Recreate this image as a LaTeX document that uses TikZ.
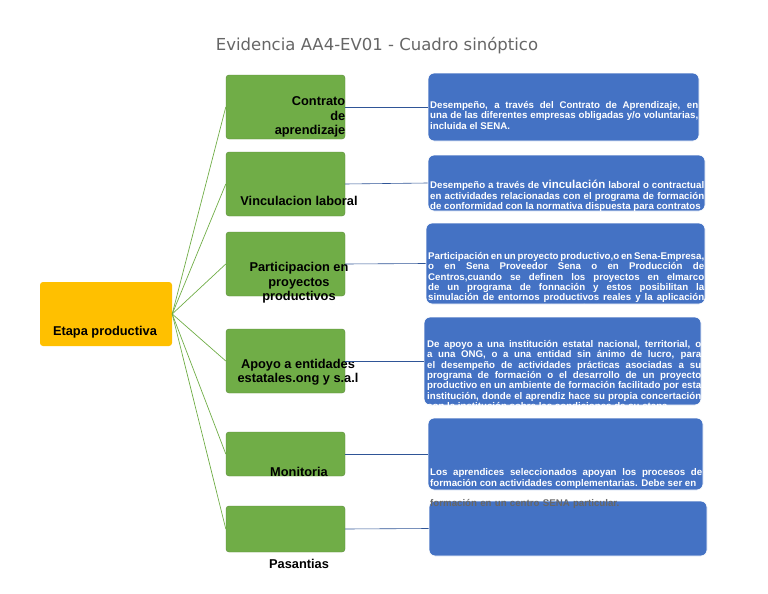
\documentclass[tikz,border=0pt]{standalone}
\usepackage{fontspec}
\setmainfont{Liberation Sans}
\newfontfamily\titlefont{DejaVu Sans}
\hyphenpenalty=10000
\exhyphenpenalty=10000
\definecolor{gbox}{HTML}{70AD47}
\definecolor{obox}{HTML}{FFC000}
\definecolor{bbox}{HTML}{4472C4}
\definecolor{cline}{HTML}{2F5597}
\begin{document}
\begin{tikzpicture}[x=1pt,y=-1pt,
  greenbox/.style={fill=gbox,draw=gbox!80!black,line width=0.4pt,rounded corners=3pt},
  bluebox/.style={fill=bbox,draw=white,line width=0.8pt,rounded corners=6pt},
  gtxt/.style={font=\bfseries\fontsize{12.8}{14.5}\selectfont,align=center,inner sep=0},
  btxt/.style={font=\bfseries\fontsize{9.7}{10.4}\selectfont,text=white,align=justify,inner sep=0,anchor=north west},
  gline/.style={gbox,line width=0.7pt},
  bline/.style={cline,line width=0.6pt}]
\path[use as bounding box] (0,0) rectangle (768,594);
\node[font=\titlefont\fontsize{16.5}{18}\selectfont,text=black!60] (title) at (377,46) {Evidencia AA4-EV01 - Cuadro sinóptico};
% root
\node[fill=obox,rounded corners=3pt,minimum width=132pt,minimum height=64pt,inner sep=0] (root) at (106,314) {};
\node[gtxt] (roott) at (105,332) {Etapa productiva};
% green boxes
\foreach \n/\y/\h in {g1/107/64,g2/184/64,g3/264/64,g4/361/64,g5/454/44,g6/529/46}{
  \node[greenbox,minimum width=119pt,minimum height=\h pt,inner sep=0] (\n) at (285.5,\y) {};
  \draw[gline] (root.east) -- (\n.west);
}
\node[gtxt,align=right] (t1) at (310,117) {Contrato\\de\\aprendizaje};
\node[gtxt] (t2) at (299,201) {Vinculacion laboral};
\node[gtxt] (t3) at (299,283) {Participacion en\\proyectos\\productivos};
\node[gtxt] (t4) at (298,372) {Apoyo a entidades\\estatales.ong y s.a.l};
\node[gtxt] (t5) at (299,472) {Monitoria};
\node[gtxt] (t6) at (299,564) {Pasantias};
% blue boxes
\node[bluebox,minimum width=271pt,minimum height=68pt] (b1) at (563.5,107) {};
\node[bluebox,minimum width=277pt,minimum height=56pt] (b2) at (566.5,183) {};
\node[bluebox,minimum width=279pt,minimum height=81pt] (b3) at (565.5,263.5) {};
\node[bluebox,minimum width=277pt,minimum height=88pt] (b4) at (562.5,361) {};
\node[bluebox,minimum width=275pt,minimum height=72pt] (b5) at (565.5,454) {};
\node[bluebox,minimum width=278pt,minimum height=55pt] (b6) at (568,528.5) {};
\foreach \g/\b in {g1/b1,g2/b2,g3/b3,g4/b4,g5/b5,g6/b6}{
  \draw[bline] (\g.east) -- (\b.west);
}
\node[btxt,text width=268pt] (d1) at (430,101) {Desempeño, a través del Contrato de Aprendizaje, en una de las diferentes empresas obligadas y/o voluntarias, incluida el SENA.};
\begin{scope}
\clip (428,160) rectangle (706,211.5);
\node[btxt,text width=274pt] (d2) at (430,180) {Desempeño a través de {\fontsize{11.5}{10.4}\selectfont vinculación} laboral o contractual en actividades relacionadas con el programa de formación de conformidad con la normativa dispuesta para contratos};
\end{scope}
\begin{scope}
\clip (426,228) rectangle (706,303.5);
\node[btxt,text width=276pt] (d3) at (428,252) {Participación en un proyecto productivo,o en Sena-Empresa, o en Sena Proveedor Sena o en Producción de Centros,cuando se definen los proyectos en elmarco de un programa de fonnación y estos posibilitan la simulación de entornos productivos reales y la aplicación de conocimientos y habilidades técnicas};
\end{scope}
\begin{scope}
\clip (424,322) rectangle (702,405);
\node[btxt,text width=274pt] (d4) at (427,340) {De apoyo a una institución estatal nacional, territorial, o a una ONG, o a una entidad sin ánimo de lucro, para el desempeño de actividades prácticas asociadas a su programa de formación o el desarrollo de un proyecto productivo en un ambiente de formación facilitado por esta institución, donde el aprendiz hace su propia concertación con la institución sobre las condiciones de su etapa};
\end{scope}
\begin{scope}
\clip (428,440) rectangle (704,489.5);
\node[btxt,text width=272pt] (d5) at (430,468.5) {Los aprendices seleccionados apoyan los procesos de formación con actividades complementarias. Debe ser en};
\end{scope}
\node[btxt,text=black!60,text width=272pt,align=left] (d5b) at (430,499) {formación en un centro SENA particular.};
\end{tikzpicture}
\end{document}
